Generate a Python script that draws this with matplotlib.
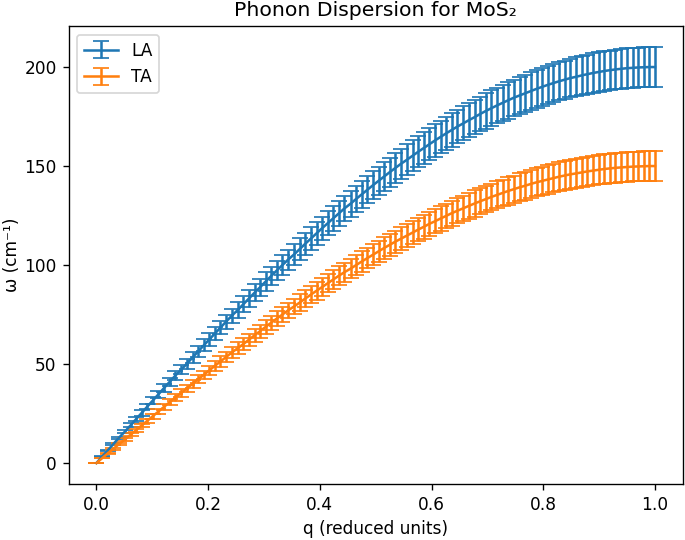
import matplotlib
matplotlib.use("Agg")
import matplotlib.pyplot as plt

# wave vector, reduced units
q = [0.000, 0.010, 0.020, 0.030, 0.040, 0.051, 0.061, 0.071, 0.081, 0.091,
     0.101, 0.111, 0.121, 0.131, 0.141, 0.152, 0.162, 0.172, 0.182, 0.192,
     0.202, 0.212, 0.222, 0.232, 0.242, 0.253, 0.263, 0.273, 0.283, 0.293,
     0.303, 0.313, 0.323, 0.333, 0.343, 0.354, 0.364, 0.374, 0.384, 0.394,
     0.404, 0.414, 0.424, 0.434, 0.444, 0.455, 0.465, 0.475, 0.485, 0.495,
     0.505, 0.515, 0.525, 0.535, 0.545, 0.556, 0.566, 0.576, 0.586, 0.596,
     0.606, 0.616, 0.626, 0.636, 0.646, 0.657, 0.667, 0.677, 0.687, 0.697,
     0.707, 0.717, 0.727, 0.737, 0.747, 0.758, 0.768, 0.778, 0.788, 0.798,
     0.808, 0.818, 0.828, 0.838, 0.848, 0.859, 0.869, 0.879, 0.889, 0.899,
     0.909, 0.919, 0.929, 0.939, 0.949, 0.960, 0.970, 0.980, 0.990, 1.000]

# LA branch (cm^-1)
la = [0.0, 3.2, 6.3, 9.5, 12.7, 15.9, 19.0, 22.2, 25.3, 28.5,
      31.6, 34.7, 37.9, 41.0, 44.1, 47.2, 50.2, 53.3, 56.3, 59.4,
      62.4, 65.4, 68.4, 71.4, 74.3, 77.3, 80.2, 83.1, 86.0, 88.8,
      91.7, 94.5, 97.3, 100.0, 102.7, 105.4, 108.1, 110.8, 113.4, 116.0,
      118.6, 121.1, 123.6, 126.1, 128.6, 131.0, 133.4, 135.7, 138.0, 140.3,
      142.5, 144.7, 146.9, 149.0, 151.1, 153.2, 155.2, 157.2, 159.1, 161.0,
      162.9, 164.7, 166.5, 168.2, 169.9, 171.6, 173.2, 174.7, 176.3, 177.8,
      179.2, 180.6, 181.9, 183.2, 184.5, 185.7, 186.8, 187.9, 189.0, 190.0,
      191.0, 191.9, 192.8, 193.6, 194.4, 195.1, 195.8, 196.4, 197.0, 197.5,
      198.0, 198.4, 198.8, 199.1, 199.4, 199.6, 199.8, 199.9, 200.0, 200.0]

la_err = [0.0, 0.2, 0.3, 0.5, 0.6, 0.8, 1.0, 1.1, 1.3, 1.4,
          1.6, 1.7, 1.9, 2.1, 2.2, 2.4, 2.5, 2.7, 2.8, 3.0,
          3.1, 3.3, 3.4, 3.6, 3.7, 3.9, 4.0, 4.2, 4.3, 4.4,
          4.6, 4.7, 4.9, 5.0, 5.1, 5.3, 5.4, 5.5, 5.7, 5.8,
          5.9, 6.1, 6.2, 6.3, 6.4, 6.6, 6.7, 6.8, 6.9, 7.0,
          7.1, 7.2, 7.3, 7.5, 7.6, 7.7, 7.8, 7.9, 8.0, 8.1,
          8.1, 8.2, 8.3, 8.4, 8.5, 8.6, 8.7, 8.7, 8.8, 8.9,
          9.0, 9.0, 9.1, 9.2, 9.2, 9.3, 9.3, 9.4, 9.5, 9.5,
          9.6, 9.6, 9.6, 9.7, 9.7, 9.8, 9.8, 9.8, 9.9, 9.9,
          9.9, 9.9, 9.9, 10.0, 10.0, 10.0, 10.0, 10.0, 10.0, 10.0]

# TA branch (cm^-1)
ta = [0.0, 2.4, 4.8, 7.1, 9.5, 11.9, 14.3, 16.6, 19.0, 21.3,
      23.7, 26.0, 28.4, 30.7, 33.0, 35.4, 37.7, 40.0, 42.3, 44.5,
      46.8, 49.1, 51.3, 53.5, 55.8, 58.0, 60.1, 62.3, 64.5, 66.6,
      68.8, 70.9, 73.0, 75.0, 77.1, 79.1, 81.1, 83.1, 85.1, 87.0,
      88.9, 90.8, 92.7, 94.6, 96.4, 98.2, 100.0, 101.8, 103.5, 105.2,
      106.9, 108.6, 110.2, 111.8, 113.3, 114.9, 116.4, 117.9, 119.3, 120.8,
      122.1, 123.5, 124.8, 126.2, 127.4, 128.7, 129.9, 131.1, 132.2, 133.3,
      134.4, 135.4, 136.4, 137.4, 138.3, 139.3, 140.1, 141.0, 141.8, 142.5,
      143.2, 143.9, 144.6, 145.2, 145.8, 146.3, 146.8, 147.3, 147.7, 148.1,
      148.5, 148.8, 149.1, 149.3, 149.5, 149.7, 149.8, 149.9, 150.0, 150.0]

ta_err = [0.0, 0.1, 0.2, 0.4, 0.5, 0.6, 0.7, 0.8, 0.9, 1.1,
          1.2, 1.3, 1.4, 1.5, 1.7, 1.8, 1.9, 2.0, 2.1, 2.2,
          2.3, 2.5, 2.6, 2.7, 2.8, 2.9, 3.0, 3.1, 3.2, 3.3,
          3.4, 3.5, 3.7, 3.8, 3.9, 4.0, 4.1, 4.2, 4.3, 4.4,
          4.4, 4.5, 4.6, 4.7, 4.8, 4.9, 5.0, 5.1, 5.2, 5.3,
          5.3, 5.4, 5.5, 5.6, 5.7, 5.7, 5.8, 5.9, 6.0, 6.0,
          6.1, 6.2, 6.2, 6.3, 6.4, 6.4, 6.5, 6.6, 6.6, 6.7,
          6.7, 6.8, 6.8, 6.9, 6.9, 7.0, 7.0, 7.1, 7.1, 7.1,
          7.2, 7.2, 7.2, 7.3, 7.3, 7.3, 7.3, 7.4, 7.4, 7.4,
          7.4, 7.4, 7.5, 7.5, 7.5, 7.5, 7.5, 7.5, 7.5, 7.5]

dpi = 122
fig = plt.figure(figsize=(685 / dpi, 540 / dpi), dpi=dpi)
ax = fig.add_axes([0.100, 0.104, 0.897, 0.847])

ax.errorbar(q, la, yerr=la_err, label="LA", capsize=5)
ax.errorbar(q, ta, yerr=ta_err, label="TA", capsize=5)

ax.set_title("Phonon Dispersion for MoS₂")
ax.set_xlabel("q (reduced units)")
ax.set_ylabel("ω (cm⁻¹)", labelpad=2)
ax.legend(loc="upper left")

fig.savefig("out.png", dpi=dpi)
